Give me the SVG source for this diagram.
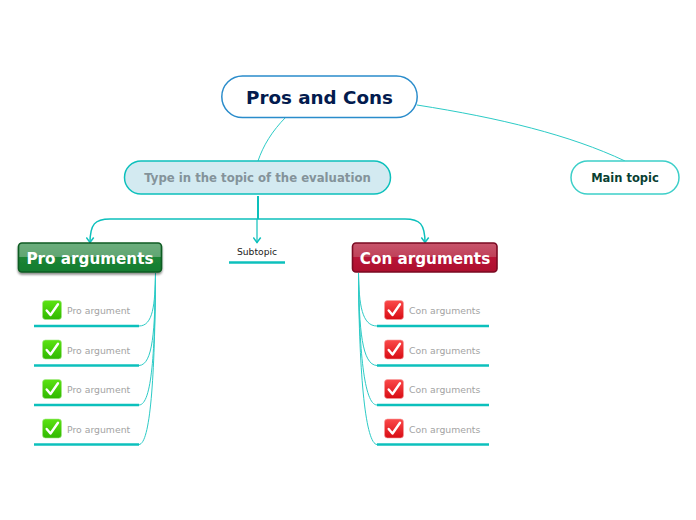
<svg xmlns="http://www.w3.org/2000/svg" width="696" height="520" viewBox="0 0 696 520">
<style>
text{font-family:"DejaVu Sans",sans-serif}
.c{fill:none;stroke:#0cc0bc}
.t{fill:none;stroke:#2ccbc6;stroke-width:1}
.u{stroke:#0cc0bc;stroke-width:2.4;fill:none}
.lb{font-size:9.3px;fill:#a3a3a3}
.big{font-size:15.200px;font-weight:bold;fill:#fff;text-anchor:middle}
.tick{fill:none;stroke:#fff;stroke-width:2.4;stroke-linecap:round;stroke-linejoin:round}
</style>
<defs>
<linearGradient id="gg" x1="0" y1="0" x2="0" y2="1"><stop offset="0" stop-color="#6dae7d"/><stop offset=".5" stop-color="#60a572"/><stop offset=".5" stop-color="#1b8435"/><stop offset="1" stop-color="#177c30"/></linearGradient>
<linearGradient id="rg" x1="0" y1="0" x2="0" y2="1"><stop offset="0" stop-color="#c8566c"/><stop offset=".5" stop-color="#bf4058"/><stop offset=".5" stop-color="#b81436"/><stop offset="1" stop-color="#ad0f2e"/></linearGradient>
<linearGradient id="gc" x1="0" y1="0" x2="0" y2="1"><stop offset="0" stop-color="#5be312"/><stop offset="1" stop-color="#30b800"/></linearGradient>
<linearGradient id="rc" x1="0" y1="0" x2="0" y2="1"><stop offset="0" stop-color="#fb4a4a"/><stop offset="1" stop-color="#d80c14"/></linearGradient>
<filter id="sh" x="-10%" y="-20%" width="120%" height="150%"><feDropShadow dx="0" dy="2" stdDeviation="1.2" flood-color="#000" flood-opacity=".45"/></filter>
<marker id="ah" markerWidth="8" markerHeight="9" refX="7" refY="4.500" orient="auto" viewBox="0 0 8 9" markerUnits="userSpaceOnUse"><path d="M1.500 .8L6.500 4.500L1.500 8.200" fill="none" stroke="#0cc0bc" stroke-width="1.500"/></marker>
<g id="gck"><rect x="0" y="0" width="19" height="19" rx="3" fill="url(#gc)" stroke="#a6e88a" stroke-width=".6"/><path class="tick" d="M4.200 10L8 14.500L15.500 3.800"/></g>
<g id="rck"><rect x="0" y="0" width="19" height="19" rx="3" fill="url(#rc)" stroke="#f7a0a0" stroke-width=".6"/><path class="tick" d="M4.200 10L8 14.500L15.500 3.800"/></g>
</defs>
<g id="connectors">
<path class="t" stroke-width="1.100" d="M286 117C272 131 263 146 258 161"/>
<path class="t" d="M417 105C500 118 570 135 625 161"/>
<path class="c" stroke-width="2" d="M258 196V219"/>
<path class="c" stroke-width="1.500" d="M258 219H110C95 219 90 224 90 243" marker-end="url(#ah)"/>
<path class="c" stroke-width="1.500" d="M258 219H405C420 219 425 224 425 243" marker-end="url(#ah)"/>
<path class="c" stroke-width="1.500" stroke-opacity=".8" d="M257 219V243" marker-end="url(#ah)"/>
<path class="t" d="M155.500 273C155 305 153 326 139 326"/>
<path class="t" d="M155.500 273C155 330 153 365 139 365.500"/>
<path class="t" d="M155.500 273C155 350 152 405 139 405"/>
<path class="t" d="M155.500 273C155 380 150 444 139 444.500"/>
<path class="t" d="M358.500 273C359 305 362 326 377 326"/>
<path class="t" d="M358.500 273C359 330 362 365 377 365.500"/>
<path class="t" d="M358.500 273C359 350 364 405 377 405"/>
<path class="t" d="M358.500 273C359 380 366 444 377 444.500"/>
</g>
<g id="root"><rect x="221.800" y="76" width="195.400" height="41.500" rx="20.700" fill="#fff" stroke="#2a8ccb" stroke-width="1.500"/><text x="319.500" y="103.800" font-size="18.300" font-weight="bold" fill="#031b4e" text-anchor="middle">Pros and Cons</text></g>
<g id="topic"><rect x="124.500" y="161" width="266" height="33" rx="16.500" fill="#d3eaf1" stroke="#0cc0bc" stroke-width="1.500"/><text x="257.500" y="182.300" font-size="11.700" font-weight="bold" fill="#84939a" text-anchor="middle">Type in the topic of the evaluation</text></g>
<g id="main"><rect x="571" y="161" width="108" height="33" rx="16.500" fill="#fff" stroke="#3dcfc9" stroke-width="1.500"/><text x="625" y="182.300" font-size="11.500" font-weight="bold" fill="#0a3f33" text-anchor="middle">Main topic</text></g>
<g id="pro"><rect x="18.500" y="243" width="143" height="29" rx="3.500" fill="url(#gg)" stroke="#0f5b24" stroke-width="1.600" filter="url(#sh)"/><text class="big" x="90" y="264">Pro arguments</text></g>
<g id="con"><rect x="352.500" y="243" width="144.500" height="29" rx="3.500" fill="url(#rg)" stroke="#7a0a22" stroke-width="1.600"/><text class="big" x="425" y="264">Con arguments</text></g>
<g id="subtopic"><text x="257" y="255.300" font-size="9.200" fill="#222" text-anchor="middle">Subtopic</text><path class="u" d="M229 262.500H285"/></g>
<g id="pro1"><use href="#gck" x="42.500" y="300.500"/><text class="lb" x="67" y="314">Pro argument</text><path class="u" d="M34 326H139"/></g>
<g id="pro2"><use href="#gck" x="42.500" y="340"/><text class="lb" x="67" y="354">Pro argument</text><path class="u" d="M34 365.500H139"/></g>
<g id="pro3"><use href="#gck" x="42.500" y="379.500"/><text class="lb" x="67" y="393">Pro argument</text><path class="u" d="M34 405H139"/></g>
<g id="pro4"><use href="#gck" x="42.500" y="419"/><text class="lb" x="67" y="433">Pro argument</text><path class="u" d="M34 444.500H139"/></g>
<g id="con1"><use href="#rck" x="384.500" y="300.500"/><text class="lb" x="409" y="314">Con arguments</text><path class="u" d="M377 326H489"/></g>
<g id="con2"><use href="#rck" x="384.500" y="340"/><text class="lb" x="409" y="354">Con arguments</text><path class="u" d="M377 365.500H489"/></g>
<g id="con3"><use href="#rck" x="384.500" y="379.500"/><text class="lb" x="409" y="393">Con arguments</text><path class="u" d="M377 405H489"/></g>
<g id="con4"><use href="#rck" x="384.500" y="419"/><text class="lb" x="409" y="433">Con arguments</text><path class="u" d="M377 444.500H489"/></g>
</svg>
